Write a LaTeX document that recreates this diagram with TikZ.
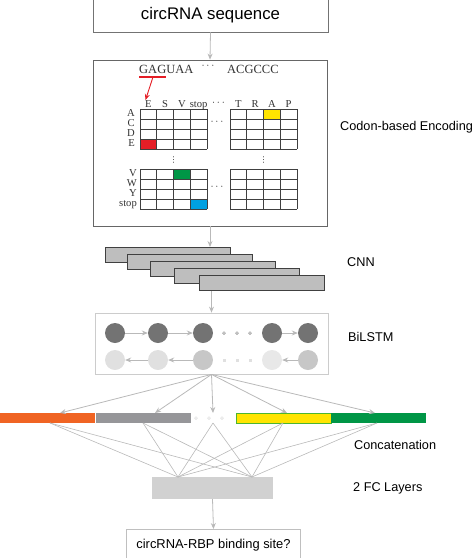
\documentclass[tikz,border=0pt]{standalone}
\usepackage{fontspec}
\setmainfont{Liberation Sans}
\newfontfamily\serifF{Liberation Serif}
\newfontfamily\dejavu{DejaVu Sans}
\usetikzlibrary{arrows.meta}
\definecolor{arr}{RGB}{185,185,185}
\definecolor{cred}{RGB}{228,30,38}
\definecolor{cyel}{RGB}{255,228,0}
\definecolor{cgrn}{RGB}{0,150,70}
\definecolor{cblu}{RGB}{0,160,225}
\definecolor{corg}{RGB}{240,100,35}
\definecolor{cgry}{RGB}{150,150,153}
\definecolor{cnnfill}{RGB}{190,190,190}
\definecolor{dark}{RGB}{115,115,115}
\tikzset{
  arrowline/.style={draw=arr, line width=0.8pt, -{Stealth[length=6pt,width=5pt]}},
  thinline/.style={draw=arr, line width=0.6pt},
  label/.style={font=\fontsize{12.7}{14}\selectfont, anchor=west, inner sep=0pt},
  gridtxt/.style={font=\serifF\fontsize{10.6}{10}\selectfont, inner sep=0pt, text=black!80},
  rowtxt/.style={gridtxt, text height=6.5pt, text depth=1pt, anchor=east},
  gridline/.style={draw=black!75, line width=0.6pt},
  cnnbox/.style={draw=black!75, fill=cnnfill, line width=1.1pt, minimum width=125pt, minimum height=15pt, inner sep=0pt},
  cdark/.style={circle, fill=dark, minimum size=20pt, inner sep=0pt},
  clight/.style={circle, fill=black!12, minimum size=20pt, inner sep=0pt},
  cmid/.style={circle, fill=black!22, minimum size=20pt, inner sep=0pt},
  bar/.style={minimum height=10pt, minimum width=95pt, inner sep=0pt},
}
\begin{document}
\begin{tikzpicture}[x=1pt,y=-1pt]
\useasboundingbox (0,0) rectangle (474,558);
% top box
\node (top) [draw=black!55, line width=0.8pt, minimum width=235pt, minimum height=34pt, inner sep=0pt,
  font=\fontsize{16.8}{18}\selectfont] at (210.5,15) {circRNA sequence};
% encoding box
\node (enc) [draw=black!60, line width=0.8pt, minimum width=234pt, minimum height=166pt, inner sep=0pt] at (210,143) {};
\draw[arrowline] (top.south) -- (enc.north);
% sequence text
\node (seq1) [gridtxt, font=\serifF\fontsize{12.5}{12}\selectfont, anchor=west] at (139,69) {GAGUAA};
\node (seqd) [gridtxt] at (208,66) {$\cdots$};
\node (seq2) [gridtxt, font=\serifF\fontsize{12.5}{12}\selectfont, anchor=west] at (227,69) {ACGCCC};
\coordinate (ul1) at (139,77);
\coordinate (ul2) at (166,77);
\draw[cred, line width=1.4pt] (ul1) -- (ul2);
\coordinate (ra1) at (153,77);
\coordinate (ra2) at (145.5,100);
\draw[cred, line width=0.9pt, -{Stealth[length=6pt,width=5pt]}] (ra1) -- (ra2);
% colored cells
\fill[cred] (140,139) rectangle ++(16.75,10);
\fill[cyel] (263.5,109) rectangle ++(16.75,10);
\fill[cgrn] (173.5,169) rectangle ++(16.75,10);
\fill[cblu] (190.25,199) rectangle ++(16.75,10);
% grids
\foreach \gx/\gy in {140/109, 230/109, 140/169, 230/169}{
  \foreach \i in {0,...,4}{
    \draw[gridline] (\gx+\i*16.75,\gy) -- ++(0,40);
    \draw[gridline] (\gx,\gy+\i*10) -- ++(67,0);
  }
}
% column labels
\foreach \cx/\t in {148.4/E, 165.1/S, 181.9/V, 198.6/stop, 238.4/T, 255.1/R, 271.9/A, 288.6/P}{
  \node[gridtxt, anchor=base] at (\cx,107) {\t};
}
\node[gridtxt] at (218.5,103) {$\cdots$};
\node[gridtxt] at (217,122) {$\cdots$};
\node[gridtxt] at (217,187) {$\cdots$};
\node (vd1) [gridtxt, font=\dejavu\fontsize{8}{8}\selectfont] at (173.5,160) {⋮};
\node (vd2) [gridtxt, font=\dejavu\fontsize{8}{8}\selectfont] at (263.5,160) {⋮};
% row labels
\foreach \ry/\t in {114/A, 124/C, 134/D, 144/E}{
  \node[rowtxt] at (135,\ry) {\t};
}
\foreach \ry/\t in {174/V, 184/W, 194/Y, 204/stop}{
  \node[rowtxt] at (137,\ry) {\t};
}
\node[label] at (340,127) {Codon-based Encoding};
% CNN
\node (c1) [cnnbox, anchor=north west] at (105,247) {};
\node (c2) [cnnbox, anchor=north west] at (127,254) {};
\node (c3) [cnnbox, anchor=north west] at (150,261) {};
\node (c4) [cnnbox, anchor=north west] at (174,268) {};
\node (c5) [cnnbox, anchor=north west] at (199,275) {};
\draw[arrowline] (enc.south) -- (enc.south |- c1.north);
\node[label] at (347,262) {CNN};
% BiLSTM
\node (bil) [draw=black!20, line width=0.8pt, minimum width=233pt, minimum height=61pt, inner sep=0pt] at (211.5,343.5) {};
\draw[arrowline] (bil.north |- c5.south) -- (bil.north);
\node (a1) [cdark] at (115,333) {};
\node (a2) [cdark] at (158,333) {};
\node (a3) [cdark] at (203,333) {};
\node (a4) [cdark] at (272,333) {};
\node (a5) [cdark] at (308,333) {};
\node (b1) [clight] at (115,360) {};
\node (b2) [clight] at (158,360) {};
\node (b3) [cmid] at (203,360) {};
\node (b4) [circle, fill=black!9, minimum size=20pt, inner sep=0pt] at (272,360) {};
\node (b5) [cmid] at (308,360) {};
\draw[arrowline] (a1) -- (a2);
\draw[arrowline] (a2) -- (a3);
\draw[arrowline] (a4) -- (a5);
\draw[arrowline] (b2) -- (b1);
\draw[arrowline] (b3) -- (b2);
\draw[arrowline] (b5) -- (b4);
\foreach \dx in {224,237,250}{
  \draw[black!50, line width=0.5pt] (\dx,333) circle (1.4pt);
  \fill[black!12] (\dx-1.5,358.5) rectangle ++(3,3);
}
\node[label] at (348,337) {BiLSTM};
% concatenation
\node (bo) [bar, fill=corg, anchor=north west] at (0,413) {};
\node (bg) [bar, fill=cgry, anchor=north west] at (95.5,413) {};
\node (by) [bar, fill=cyel, draw=cgrn!70!yellow, line width=0.6pt, anchor=north west] at (236,413) {};
\node (bn) [bar, fill=cgrn, anchor=north west] at (331,413) {};
\foreach \dx in {196,209,222}{
  \draw[black!15, line width=0.5pt] (\dx,418) circle (1.4pt);
}
\coordinate (t1) at (60,413);
\coordinate (t2) at (155,413);
\coordinate (t3) at (213,413);
\coordinate (t4) at (287,413);
\coordinate (t5) at (375,413);
\foreach \t in {t1,t2,t3,t4,t5}{
  \draw[arrowline] (bil.south) -- (\t);
}
\node[label] at (354,445) {Concatenation};
% FC
\node (fc) [fill=black!18, minimum width=121pt, minimum height=22pt, inner sep=0pt] at (212.5,488) {};
\coordinate (f1) at (178,477);
\coordinate (f2) at (252,477);
\coordinate (u1) at (50,423);
\coordinate (u2) at (143,423);
\coordinate (u3) at (213,423);
\coordinate (u4) at (283,423);
\coordinate (u5) at (377,423);
\foreach \u in {u1,u2,u3,u4,u5}{
  \draw[thinline] (\u) -- (f1);
  \draw[thinline] (\u) -- (f2);
}
\node[label] at (353,488) {2 FC Layers};
% output
\node (out) [draw=black!25, line width=0.8pt, minimum width=174pt, minimum height=32pt, inner sep=0pt,
  font=\fontsize{12.9}{14}\selectfont, anchor=north] at (213.5,529) {circRNA-RBP binding site?};
\draw[arrowline] (fc.south) -- (out.north);
\end{tikzpicture}
\end{document}
